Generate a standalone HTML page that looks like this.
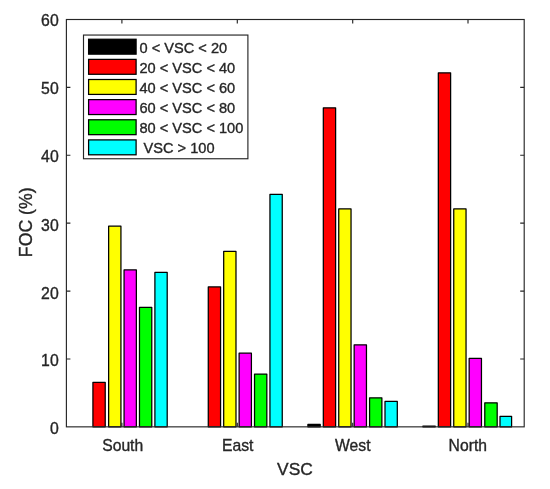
<!DOCTYPE html><html><head><meta charset="utf-8"><title>FOC vs VSC</title>
<style>html,body{margin:0;padding:0;background:#fff}svg{display:block}text{font-family:"Liberation Sans",Arial,sans-serif;fill:#262626;stroke:#262626;stroke-width:0.35px}</style></head><body>
<svg width="550" height="489" viewBox="0 0 550 489">
<rect width="550" height="489" fill="#fff"/>
<rect x="92.92" y="382.25" width="12.30" height="44.60" fill="#ff0000" stroke="#000" stroke-width="1.25" stroke-linejoin="round"/>
<rect x="108.64" y="226.23" width="12.30" height="200.62" fill="#ffff00" stroke="#000" stroke-width="1.25" stroke-linejoin="round"/>
<rect x="124.06" y="269.88" width="12.30" height="156.97" fill="#ff00ff" stroke="#000" stroke-width="1.25" stroke-linejoin="round"/>
<rect x="139.48" y="307.36" width="12.30" height="119.49" fill="#00ff00" stroke="#000" stroke-width="1.25" stroke-linejoin="round"/>
<rect x="154.90" y="272.26" width="12.30" height="154.59" fill="#00ffff" stroke="#000" stroke-width="1.25" stroke-linejoin="round"/>
<rect x="208.27" y="286.99" width="12.30" height="139.86" fill="#ff0000" stroke="#000" stroke-width="1.25" stroke-linejoin="round"/>
<rect x="223.69" y="251.35" width="12.30" height="175.50" fill="#ffff00" stroke="#000" stroke-width="1.25" stroke-linejoin="round"/>
<rect x="239.11" y="353.19" width="12.30" height="73.66" fill="#ff00ff" stroke="#000" stroke-width="1.25" stroke-linejoin="round"/>
<rect x="254.53" y="374.03" width="12.30" height="52.82" fill="#00ff00" stroke="#000" stroke-width="1.25" stroke-linejoin="round"/>
<rect x="269.95" y="194.32" width="12.30" height="232.53" fill="#00ffff" stroke="#000" stroke-width="1.25" stroke-linejoin="round"/>
<rect x="307.90" y="424.47" width="12.30" height="2.38" fill="#000000" stroke="#000" stroke-width="1.25" stroke-linejoin="round"/>
<rect x="323.32" y="107.83" width="12.30" height="319.02" fill="#ff0000" stroke="#000" stroke-width="1.25" stroke-linejoin="round"/>
<rect x="338.74" y="208.92" width="12.30" height="217.93" fill="#ffff00" stroke="#000" stroke-width="1.25" stroke-linejoin="round"/>
<rect x="354.16" y="344.84" width="12.30" height="82.01" fill="#ff00ff" stroke="#000" stroke-width="1.25" stroke-linejoin="round"/>
<rect x="369.58" y="397.86" width="12.30" height="28.99" fill="#00ff00" stroke="#000" stroke-width="1.25" stroke-linejoin="round"/>
<rect x="385.00" y="401.46" width="12.30" height="25.39" fill="#00ffff" stroke="#000" stroke-width="1.25" stroke-linejoin="round"/>
<rect x="422.90" y="426.04" width="12.30" height="0.81" fill="#000000" stroke="#000" stroke-width="1.25" stroke-linejoin="round"/>
<rect x="438.32" y="72.86" width="12.30" height="353.99" fill="#ff0000" stroke="#000" stroke-width="1.25" stroke-linejoin="round"/>
<rect x="453.74" y="208.92" width="12.30" height="217.93" fill="#ffff00" stroke="#000" stroke-width="1.25" stroke-linejoin="round"/>
<rect x="469.16" y="358.28" width="12.30" height="68.57" fill="#ff00ff" stroke="#000" stroke-width="1.25" stroke-linejoin="round"/>
<rect x="484.78" y="402.75" width="12.40" height="24.10" fill="#00ff00" stroke="#000" stroke-width="1.25" stroke-linejoin="round"/>
<rect x="500.00" y="416.33" width="11.60" height="10.52" fill="#00ffff" stroke="#000" stroke-width="1.25" stroke-linejoin="round"/>
<rect x="66.40" y="19.50" width="457.80" height="407.35" fill="none" stroke="#262626" stroke-width="1.15"/>
<path d="M121.90 426.85v-4M121.90 19.50v4" stroke="#262626" stroke-width="1.15" fill="none"/>
<path d="M237.30 426.85v-4M237.30 19.50v4" stroke="#262626" stroke-width="1.15" fill="none"/>
<path d="M352.70 426.85v-4M352.70 19.50v4" stroke="#262626" stroke-width="1.15" fill="none"/>
<path d="M468.00 426.85v-4M468.00 19.50v4" stroke="#262626" stroke-width="1.15" fill="none"/>
<text x="58.7" y="434.35" font-size="15.8" text-anchor="end">0</text>
<path d="M66.40 358.96h4M524.20 358.96h-4" stroke="#262626" stroke-width="1.15" fill="none"/>
<text x="58.7" y="366.46" font-size="15.8" text-anchor="end">10</text>
<path d="M66.40 291.07h4M524.20 291.07h-4" stroke="#262626" stroke-width="1.15" fill="none"/>
<text x="58.7" y="299.07" font-size="15.8" text-anchor="end">20</text>
<path d="M66.40 223.18h4M524.20 223.18h-4" stroke="#262626" stroke-width="1.15" fill="none"/>
<text x="58.7" y="231.08" font-size="15.8" text-anchor="end">30</text>
<path d="M66.40 155.28h4M524.20 155.28h-4" stroke="#262626" stroke-width="1.15" fill="none"/>
<text x="58.7" y="162.18" font-size="15.8" text-anchor="end">40</text>
<path d="M66.40 87.39h4M524.20 87.39h-4" stroke="#262626" stroke-width="1.15" fill="none"/>
<text x="58.7" y="94.29" font-size="15.8" text-anchor="end">50</text>
<text x="58.7" y="26.30" font-size="15.8" text-anchor="end">60</text>
<text x="122.70" y="450.8" font-size="15.7" text-anchor="middle">South</text>
<text x="237.75" y="450.8" font-size="15.7" text-anchor="middle">East</text>
<text x="352.80" y="450.8" font-size="15.7" text-anchor="middle">West</text>
<text x="467.80" y="450.8" font-size="15.7" text-anchor="middle">North</text>
<text x="295" y="474.7" font-size="17.4" text-anchor="middle">VSC</text>
<text transform="translate(32.2 222.3) rotate(-90)" font-size="17.7" text-anchor="middle">FOC (%)</text>
<rect x="83.5" y="35.05" width="164.4" height="123.7" fill="#fff" stroke="#262626" stroke-width="1.15"/>
<rect x="88.6" y="39.25" width="47.5" height="14.9" fill="#000000" stroke="#000" stroke-width="1.25"/>
<text x="139.5" y="52.55" font-size="14.6" xml:space="preserve">0 &lt; VSC &lt; 20</text>
<rect x="88.6" y="59.38" width="47.5" height="14.9" fill="#ff0000" stroke="#000" stroke-width="1.25"/>
<text x="139.5" y="72.68" font-size="14.6" xml:space="preserve">20 &lt; VSC &lt; 40</text>
<rect x="88.6" y="79.51" width="47.5" height="14.9" fill="#ffff00" stroke="#000" stroke-width="1.25"/>
<text x="139.5" y="92.81" font-size="14.6" xml:space="preserve">40 &lt; VSC &lt; 60</text>
<rect x="88.6" y="99.64" width="47.5" height="14.9" fill="#ff00ff" stroke="#000" stroke-width="1.25"/>
<text x="139.5" y="112.94" font-size="14.6" xml:space="preserve">60 &lt; VSC &lt; 80</text>
<rect x="88.6" y="119.77" width="47.5" height="14.9" fill="#00ff00" stroke="#000" stroke-width="1.25"/>
<text x="139.5" y="133.07" font-size="14.6" xml:space="preserve">80 &lt; VSC &lt; 100</text>
<rect x="88.6" y="139.90" width="47.5" height="14.9" fill="#00ffff" stroke="#000" stroke-width="1.25"/>
<text x="139.5" y="153.20" font-size="14.6" xml:space="preserve"> VSC &gt; 100</text>
</svg></body></html>
